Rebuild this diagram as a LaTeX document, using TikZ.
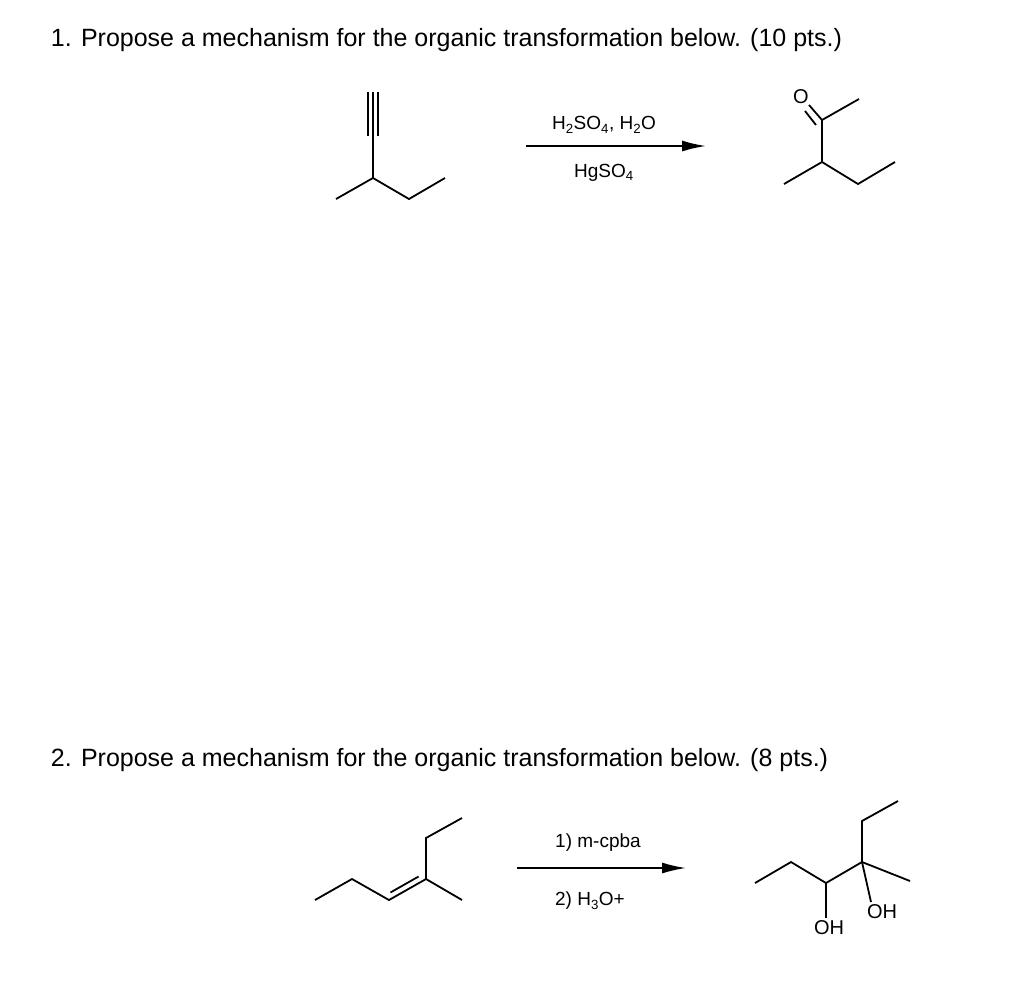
\documentclass[tikz,border=0pt]{standalone}
\usepackage{fontspec}
\setmainfont{Liberation Sans}
\usetikzlibrary{arrows.meta,calc}
\begin{document}
\begin{tikzpicture}[x=1pt,y=-1pt,line width=1.8pt,
  title/.style={anchor=west,font=\fontsize{25}{28}\selectfont,inner sep=0},
  reag/.style={font=\fontsize{19}{21}\selectfont,inner sep=0},
  atom/.style={font=\fontsize{20}{22}\selectfont,inner sep=0},
  rxn/.style={-{Latex[length=24pt,width=11pt]},line width=1.8pt}]
\useasboundingbox (0,0) rectangle (1024,997);
\node[title] (t1) at (50,40) {1. Propose a mechanism for the organic transformation below. (10 pts.)};
\node[title] (t2) at (50,760) {2. Propose a mechanism for the organic transformation below. (8 pts.)};
% molecule 1
\coordinate (a) at (373,178); \coordinate (b) at (336,199); \coordinate (c) at (409,199);
\coordinate (d) at (445,178); \coordinate (e) at (373,136); \coordinate (f) at (373,92);
\draw (b)--(a)--(c)--(d); \draw (a)--(e);
\draw (e)--(f); \draw ([xshift=-5]e)--([xshift=-5]f); \draw ([xshift=5]e)--([xshift=5]f);
% arrow 1
\coordinate (s1) at (526,146); \coordinate (e1) at (706,146);
\draw[rxn] (s1)--(e1);
\node[reag] (r1) at (604,125) {H\textsubscript{2}SO\textsubscript{4}, H\textsubscript{2}O};
\node[reag] (r2) at (604,173) {HgSO\textsubscript{4}};
% product 1
\coordinate (p1) at (822,162); \coordinate (p2) at (784,184); \coordinate (p3) at (858,184);
\coordinate (p4) at (895,162); \coordinate (p5) at (822,120); \coordinate (p6) at (859,99);
\node[atom] (O) at (801,97) {O};
\coordinate (oe) at (809,105);
\draw (p2)--(p1)--(p3)--(p4); \draw (p1)--(p5)--(p6);
\draw (p5)--(oe); \draw ($(p5)+(-6,5)$)--($(oe)+(-4,6)$);
% molecule 2
\coordinate (m1) at (315,900); \coordinate (m2) at (352,879); \coordinate (m3) at (389,900);
\coordinate (m4) at (426,879); \coordinate (m5) at (426,838); \coordinate (m6) at (462,818);
\coordinate (m7) at (462,900);
\draw (m1)--(m2)--(m3)--(m4)--(m5)--(m6); \draw (m4)--(m7);
\draw ($(m3)!0.12!(m4)+(-3,-5)$)--($(m3)!0.88!(m4)+(-3,-5)$);
% arrow 2
\coordinate (s2) at (517,868); \coordinate (e2) at (686,868);
\draw[rxn] (s2)--(e2);
\node[reag] (r3) at (598,843) {1) m-cpba};
\node[reag] (r4) at (590,901) {2) H\textsubscript{3}O+};
% product 2
\coordinate (q1) at (755,883); \coordinate (q2) at (791,862); \coordinate (q3) at (826,883);
\coordinate (q4) at (862,862); \coordinate (q5) at (910,881); \coordinate (q6) at (862,821);
\coordinate (q7) at (898,801);
\node[atom] (oh1) at (829,928) {OH};
\node[atom] (oh2) at (882,912) {OH};
\draw (q1)--(q2)--(q3)--(q4)--(q5); \draw (q4)--(q6)--(q7);
\draw (q3)--($(oh1.north -| q3)+(0,-2)$); \draw (q4)--($(oh2.north)+(-11,-2)$);
\end{tikzpicture}
\end{document}
